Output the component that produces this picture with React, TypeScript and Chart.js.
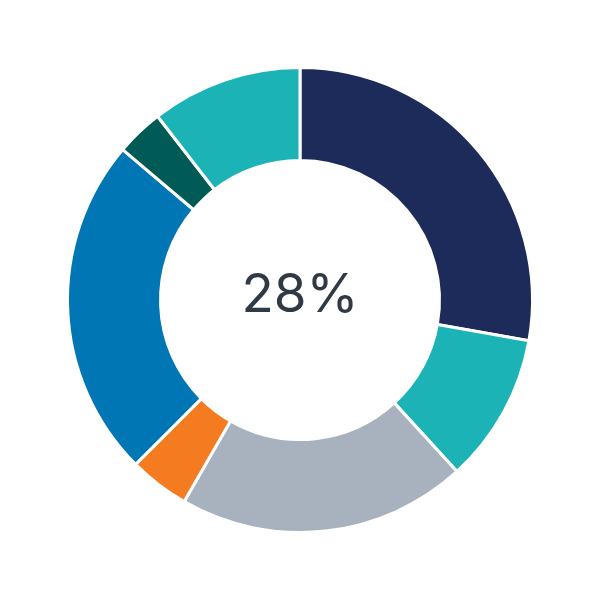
import { useEffect, useRef } from 'react'
import { Chart, registerables } from 'chart.js'
Chart.register(...registerables)

const LABELS = ['A', 'B', 'C', 'D', 'E', 'F', 'G']
const VALUES = [27.8, 10.4, 20.1, 4.2, 23.7, 3.3, 10.5]
const COLORS = ['#1c2b5a', '#1cb3b6', '#a8b2bf', '#f47b20', '#0076b4', '#005a55', '#1cb3b6']
const CENTER_TEXT = '28%'

const centerText = {
  id: 'centerText',
  afterDraw(chart: Chart) {
    const { ctx, chartArea } = chart
    const cx = (chartArea.left + chartArea.right) / 2
    const cy = (chartArea.top + chartArea.bottom) / 2
    ctx.save()
    ctx.font = '400 53px Inter'
    ctx.fillStyle = '#2f3a46'
    ctx.textAlign = 'center'
    ctx.textBaseline = 'middle'
    ctx.fillText(CENTER_TEXT, cx, cy - 4)
    ctx.restore()
  },
}

export default function App() {
  const ref = useRef<HTMLCanvasElement>(null)
  const chartRef = useRef<Chart | null>(null)

  useEffect(() => {
    document.body.style.margin = '0'
    if (!ref.current) return
    chartRef.current = new Chart(ref.current, {
      type: 'doughnut',
      data: { labels: LABELS, datasets: [{ data: VALUES, backgroundColor: COLORS, borderColor: '#ffffff', borderWidth: 3 }] },
      options: {
        responsive: false, animation: false, cutout: '60%',
        layout: { padding: 66 },
        plugins: { legend: { display: false }, tooltip: { enabled: false } },
      },
      plugins: [centerText],
    })
    return () => { chartRef.current?.destroy() }
  }, [])

  return <canvas ref={ref} width={600} height={600} style={{ display: 'block' }} />
}
